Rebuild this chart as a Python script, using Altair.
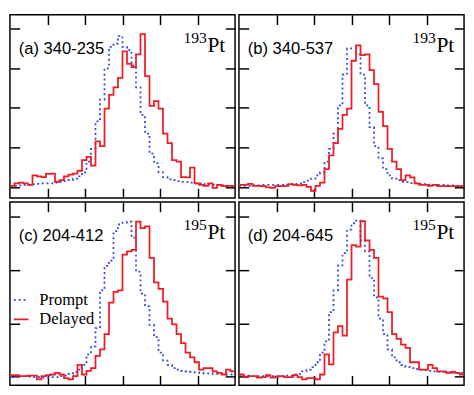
import altair as alt
import pandas as pd

# ---- data (counts per time bin) ----
X_MIN, X_MAX, BIN = -30.0, 30.0, 1.2
x_ticks = [-20, -10, 0, 10, 20]

a_prompt = [3,3,4,5,5,7,8,9,9,9,11,13,15,17,21,27,37,64,96,166,221,300,354,362,382,354,346,307,252,182,135,84,60,37,25,19,17,15,13,13,11,9,9,7,6,5,5,4,3,3]
a_delayed = [3,9,11,9,5,29,27,25,33,34,13,17,27,31,34,41,68,76,54,115,103,198,233,252,276,343,311,303,335,386,280,205,217,198,135,111,68,64,25,24,49,9,5,3,9,-2,5,2,3,3]
b_prompt = [3,3,3,4,4,5,5,5,5,5,6,7,8,9,13,16,21,29,37,64,96,135,206,284,350,350,335,284,206,151,103,72,45,29,21,17,13,12,10,9,8,7,6,5,5,5,4,4,3,3]
b_delayed = [5,5,8,3,3,2,-1,-2,2,2,3,7,5,4,5,0,-10,3,11,45,80,111,147,182,198,319,358,333,335,295,260,190,154,96,64,45,17,29,24,9,5,5,3,5,2,2,2,2,2,2]
c_prompt = [1,1,1,1,0,-1,-1,-2,-2,-1,-1,1,2,5,9,13,22,42,57,91,162,208,218,273,286,289,291,261,197,156,132,97,74,45,30,22,16,13,11,10,9,8,7,6,6,5,5,5,4,4]
c_delayed = [3,3,1,1,2,2,-5,1,3,4,7,4,-3,-5,1,22,4,11,16,39,51,80,139,159,162,229,235,238,291,279,282,223,177,165,141,109,98,80,63,45,36,27,13,16,16,10,7,4,13,10]
d_prompt = [3,2,2,1,1,1,1,1,1,1,2,2,4,5,10,13,18,27,45,66,121,162,209,232,276,288,293,256,235,185,149,109,80,51,36,27,22,18,16,14,13,12,11,10,9,9,8,7,7,7]
d_delayed = [4,-1,1,1,-2,-1,3,-2,0,1,-1,-1,3,-1,-5,-3,-3,-5,4,42,23,83,95,77,182,247,244,292,256,238,223,150,147,121,80,71,60,54,27,27,13,13,22,16,10,10,7,9,7,4]

labels = ["(a) 340-235", "(b) 340-537", "(c) 204-412", "(d) 204-645"]
masses = ["193", "193", "195", "195"]
top_ydomain, top_yticks = [-28, 435], [0, 100, 200, 300, 400]
bot_ydomain, bot_yticks = [-16, 328], [0, 100, 200, 300]

series_order = ["Prompt", "Delayed"]
series_colors = ["#3347e0", "#ee1c25"]
series_dash = [[2, 3], [1, 0]]

W, H = 231, 188


def make_df(prompt, delayed):
    rows = []
    for name, vals in (("Prompt", prompt), ("Delayed", delayed)):
        ext = vals + [vals[-1]]
        for i, v in enumerate(ext):
            rows.append({"t": X_MIN + BIN * i, "c": v, "s": name})
    return pd.DataFrame(rows)


def axis(orient, values):
    return alt.Axis(orient=orient, values=values, labels=False, domain=False,
                    grid=False, ticks=True, tickSize=10, offset=-10,
                    tickColor="black", tickWidth=1.5, title=None, minExtent=0)


legend = alt.Legend(orient="none", legendX=3, legendY=284, title=None,
                    labelFont="Liberation Serif", labelFontSize=17,
                    labelColor="black", symbolSize=225, symbolStrokeWidth=2,
                    labelOffset=10, rowPadding=2, padding=0, symbolType="stroke")


def panel(prompt, delayed, ydom, yticks, label, mass):
    df = make_df(prompt, delayed)
    xs = alt.Scale(domain=[X_MIN, X_MAX], nice=False, zero=False)
    ys = alt.Scale(domain=ydom, nice=False, zero=False)
    lines = alt.Chart(df).mark_line(interpolate="step-after", strokeWidth=1.8, clip=True).encode(
        x=alt.X("t:Q", scale=xs, axis=axis("bottom", x_ticks)),
        y=alt.Y("c:Q", scale=ys, axis=axis("left", yticks)),
        color=alt.Color("s:N", sort=series_order,
                        scale=alt.Scale(domain=series_order, range=series_colors), legend=legend),
        strokeDash=alt.StrokeDash("s:N", sort=series_order,
                                  scale=alt.Scale(domain=series_order, range=series_dash), legend=legend),
    )
    axes2 = alt.Chart(df).mark_point(opacity=0, size=1).encode(
        x=alt.X("t:Q", scale=xs, axis=axis("top", x_ticks)),
        y=alt.Y("c:Q", scale=ys, axis=axis("right", yticks)),
    )
    tdf = pd.DataFrame({"label": [label], "mass": [mass], "el": ["Pt"]})
    lab = alt.Chart(tdf).mark_text(align="left", baseline="alphabetic", font="Liberation Sans",
                                   fontSize=17, color="black").encode(
        x=alt.value(9), y=alt.value(40), text="label:N")
    el = alt.Chart(tdf).mark_text(align="right", baseline="alphabetic", font="Liberation Serif",
                                  fontSize=22, color="black").encode(
        x=alt.value(W - 10), y=alt.value(38), text="el:N")
    sup = alt.Chart(tdf).mark_text(align="right", baseline="alphabetic", font="Liberation Serif",
                                   fontSize=16, color="black").encode(
        x=alt.value(W - 29), y=alt.value(29), text="mass:N")
    return alt.layer(lines, axes2, lab, el, sup).resolve_axis(
        x="independent", y="independent").properties(width=W, height=H)


pa = panel(a_prompt, a_delayed, top_ydomain, top_yticks, labels[0], masses[0])
pb = panel(b_prompt, b_delayed, top_ydomain, top_yticks, labels[1], masses[1])
pc = panel(c_prompt, c_delayed, bot_ydomain, bot_yticks, labels[2], masses[2])
pdd = panel(d_prompt, d_delayed, bot_ydomain, bot_yticks, labels[3], masses[3])

chart = alt.vconcat(
    alt.hconcat(pa, pb, spacing=0),
    alt.hconcat(pc, pdd, spacing=0),
    spacing=0,
).properties(padding=0).configure_view(stroke="black", strokeWidth=1.5)

chart.save("out.html", embed_options={"renderer": "svg", "actions": False})
